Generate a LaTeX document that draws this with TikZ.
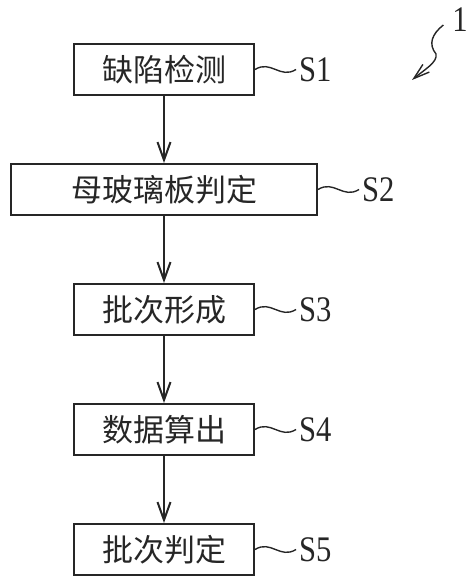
\documentclass[tikz,border=0pt]{standalone}
\usepackage{fontspec}
\setmainfont[FakeStretch=0.85]{Liberation Serif}
\newfontfamily\cjk{Noto Sans CJK SC}
\usetikzlibrary{positioning,arrows.meta}

\begin{document}
\begin{tikzpicture}[
    >={Straight Barb[length=9pt,width=6.5pt]},
    line width=1pt, color=black!85,
    stepbox/.style={draw, minimum width=90pt, minimum height=25.5pt, inner sep=0pt,
      font=\cjk\fontsize{15.5}{16}\selectfont},
    tag/.style={font=\fontsize{18}{19}\selectfont, inner sep=1pt},
    node distance=60pt
  ]
      \useasboundingbox (0,0) rectangle (237pt,-294pt);

      \node[stepbox] (1) at (82pt,-34.75pt) {缺陷检测};
      \node[stepbox, below of=1, minimum width=153pt] (2) {母玻璃板判定};
      \node[stepbox, below of=2] (3) {批次形成};
      \node[stepbox, below of=3] (4) {数据算出};
      \node[stepbox, below of=4] (5) {批次判定};

      \node[tag, right=20.5pt of 1] (S1) {S1};
      \node[tag, right=20.5pt of 2] (S2) {S2};
      \node[tag, right=20.5pt of 3] (S3) {S3};
      \node[tag, right=20.5pt of 4] (S4) {S4};
      \node[tag, right=20.5pt of 5] (S5) {S5};

      \draw[->] (1) -- (2);
      \draw[->] (2) -- (3);
      \draw[->] (3) -- (4);
      \draw[->] (4) -- (5);

      % wavy leaders to the step tags
      \foreach \i in {1,...,5}
        \draw[line width=0.7pt] (\i.east) .. controls +(8pt,5pt) and +(-8pt,-5pt) .. (S\i.west);

      \node[tag] (n) at (230pt,-10pt) {1};
      \coordinate (tip) at (206pt,-40pt);
      \draw[-{Straight Barb[length=8pt,width=5pt]}, line width=0.7pt]
        ([xshift=-3pt,yshift=-2.5pt]n.west) .. controls (216pt,-17pt) and (214pt,-22pt) .. (218pt,-27pt)
        .. controls (219pt,-31pt) and (212pt,-35pt) .. (tip);
\end{tikzpicture}
\end{document}
